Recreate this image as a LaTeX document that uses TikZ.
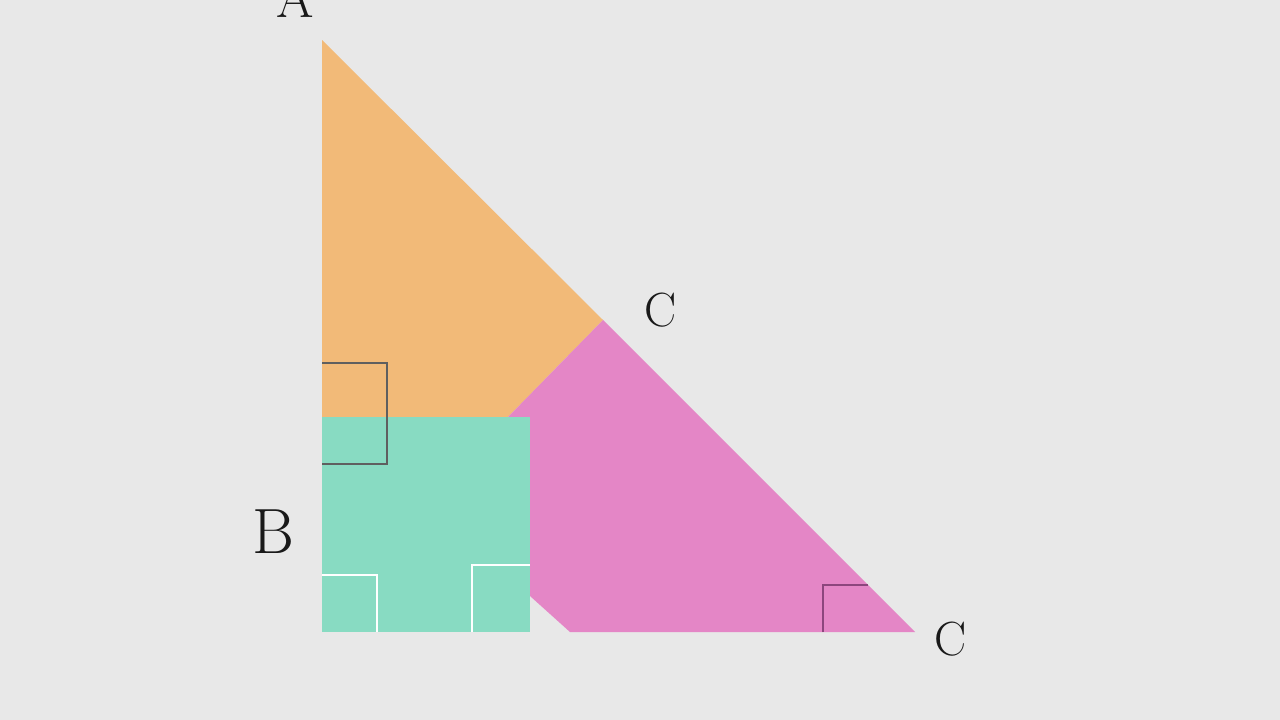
\documentclass[tikz,border=0pt]{standalone}
\begin{document}
\begin{tikzpicture}[x=1pt,y=-1pt,
  region/.style={draw=none},
  lbl/.style={inner sep=0pt, text=black!90},
  anglemark/.style={line width=1.4pt}]
\definecolor{bg}{RGB}{232,232,232}
\definecolor{orng}{RGB}{242,186,120}
\definecolor{grn}{RGB}{136,219,194}
\definecolor{pnk}{RGB}{228,134,198}
\definecolor{markgray}{RGB}{95,95,95}
\definecolor{markpink}{RGB}{140,70,125}
\fill[bg] (0,0) rectangle (1280,720);
\useasboundingbox (0,0) rectangle (1280,720);
% regions
\fill[orng, region] (322,40) -- (603,320) -- (508,417) -- (322,417) -- cycle;
\fill[pnk, region] (603,320) -- (915,632) -- (570,632) -- (530,596) -- (530,417) -- (508,417) -- cycle;
\fill[grn, region] (322,417) rectangle (530,632);
% right-angle marks
\draw[markgray, anglemark] (322,363) -- (387,363) -- (387,464) -- (322,464);
\draw[white, anglemark] (322,575) -- (377,575) -- (377,632);
\draw[white, anglemark] (472,632) -- (472,565) -- (530,565);
\draw[markpink, anglemark] (823,632) -- (823,585) -- (868,585);
% labels
\node[lbl, font=\fontsize{54}{54}\selectfont, anchor=base] (A) at (295,17) {A};
\node[lbl, font=\fontsize{48}{48}\selectfont, anchor=base] (C1) at (661,326) {C};
\node[lbl, font=\fontsize{64}{64}\selectfont, anchor=base] (B) at (273,553) {B};
\node[lbl, font=\fontsize{48}{48}\selectfont, anchor=base] (C2) at (951,655) {C};
\end{tikzpicture}
\end{document}
